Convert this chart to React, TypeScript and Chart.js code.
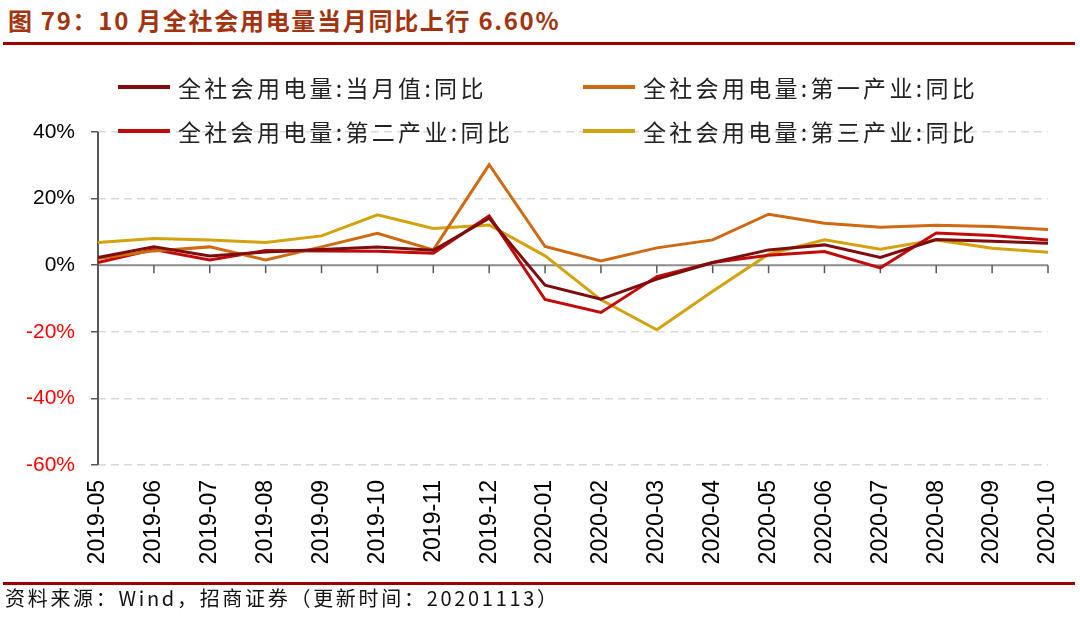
import React, { useEffect, useRef } from "react";
import { Chart, registerables } from "chart.js";

Chart.register(...registerables);

const categories = [
  "2019-05", "2019-06", "2019-07", "2019-08", "2019-09", "2019-10", "2019-11", "2019-12",
  "2020-01", "2020-02", "2020-03", "2020-04", "2020-05", "2020-06", "2020-07", "2020-08", "2020-09", "2020-10",
];
const totalYoY = [2.3, 5.5, 2.8, 4.0, 4.7, 5.5, 4.5, 14.1, -6.0, -10.2, -4.2, 0.8, 4.6, 6.1, 2.3, 7.7, 7.2, 6.6];
const primaryYoY = [2.0, 4.3, 5.5, 1.6, 5.5, 9.6, 4.6, 30.2, 5.6, 1.3, 5.2, 7.6, 15.3, 12.6, 11.4, 12.0, 11.6, 10.7];
const secondaryYoY = [0.8, 4.7, 1.6, 4.4, 4.3, 4.2, 3.6, 14.8, -10.3, -14.2, -3.4, 0.8, 3.0, 4.1, -0.8, 9.7, 8.9, 7.6];
const tertiaryYoY = [6.8, 8.0, 7.6, 6.8, 8.8, 15.1, 11.0, 12.1, 2.8, -10.4, -19.4, -7.8, 3.3, 7.6, 4.8, 7.6, 5.1, 3.9];

const seriesNames = [
  "全社会用电量:当月值:同比",
  "全社会用电量:第一产业:同比",
  "全社会用电量:第二产业:同比",
  "全社会用电量:第三产业:同比",
];
const seriesColors = ["#7E0E0E", "#CF6A12", "#C20A0A", "#D4A20C"];
const yMin = -60;
const yMax = 40;
const yStep = 20;

const titleText = "图 79：10 月全社会用电量当月同比上行 6.60%";
const sourceText = "资料来源：Wind，招商证券（更新时间：20201113）";

const CJK = '"Noto Sans CJK SC", "Noto Sans", sans-serif';
const LATIN = '"Liberation Sans", Arial, sans-serif';

const axisPlugin = {
  id: "axisPlugin",
  beforeDatasetsDraw(chart: any) {
    const { ctx, chartArea, scales } = chart;
    const x = scales.x;
    const y = scales.y;
    const y0 = y.getPixelForValue(0);
    ctx.save();
    ctx.setLineDash([]);
    ctx.strokeStyle = "#8C8C8C";
    ctx.lineWidth = 2;
    ctx.beginPath();
    ctx.moveTo(chartArea.left, y0);
    ctx.lineTo(chartArea.right, y0);
    ctx.stroke();
    ctx.strokeStyle = "#595959";
    ctx.lineWidth = 1.5;
    for (let i = 0; i < categories.length; i++) {
      const px = x.getPixelForValue(i);
      ctx.beginPath();
      ctx.moveTo(px, y0);
      ctx.lineTo(px, y0 + 8);
      ctx.stroke();
    }
    ctx.strokeStyle = "#595959";
    ctx.lineWidth = 2;
    ctx.beginPath();
    ctx.moveTo(chartArea.left, chartArea.top);
    ctx.lineTo(chartArea.left, chartArea.bottom);
    ctx.stroke();
    ctx.restore();
  },
};

function LegendItem({ name, color, left, cy }: { name: string; color: string; left: number; cy: number }) {
  return (
    <div
      style={{
        position: "absolute",
        left,
        top: cy - 16,
        height: 32,
        display: "flex",
        alignItems: "center",
        whiteSpace: "nowrap",
      }}
    >
      <div style={{ width: 52, height: 4, background: color, marginRight: 8 }} />
      <span style={{ fontFamily: CJK, fontSize: 23, letterSpacing: 3.3, color: "#222", lineHeight: "32px" }}>{name}</span>
    </div>
  );
}

export default function App() {
  const canvasRef = useRef<HTMLCanvasElement | null>(null);

  useEffect(() => {
    const canvas = canvasRef.current;
    if (!canvas) return;
    const data = [totalYoY, primaryYoY, secondaryYoY, tertiaryYoY];
    const chart = new Chart(canvas, {
      type: "line",
      data: {
        labels: categories,
        datasets: data.map((vals, i) => ({
          label: seriesNames[i],
          data: vals,
          borderColor: seriesColors[i],
          backgroundColor: seriesColors[i],
          borderWidth: 3,
          pointRadius: 0,
          tension: 0,
          fill: false,
        })),
      },
      options: {
        animation: false,
        responsive: false,
        maintainAspectRatio: false,
        devicePixelRatio: 1,
        layout: { padding: { left: 0, right: 32, top: 132, bottom: 42 } },
        plugins: {
          legend: { display: false },
          title: { display: false },
          tooltip: { enabled: false },
        },
        scales: {
          x: {
            type: "category",
            offset: false,
            grid: { display: false, drawTicks: false },
            border: { display: false },
            ticks: {
              autoSkip: false,
              maxRotation: 90,
              minRotation: 90,
              padding: 15,
              color: "#000",
              font: { family: LATIN, size: 23 },
            },
            afterFit(scale: any) {
              scale.height = 110;
              scale.paddingLeft = 0;
              scale.paddingRight = 0;
            },
          },
          y: {
            min: yMin,
            max: yMax,
            border: { display: false, dash: [8, 5] },
            grid: {
              color: (c: any) => (c.tick && c.tick.value === 0 ? "rgba(0,0,0,0)" : "#D9D9D9"),
              lineWidth: 1.5,
              drawTicks: true,
              tickLength: 7,
              tickColor: "#595959",
              tickWidth: 1.5,
              tickBorderDash: [],
            } as any,
            ticks: {
              stepSize: yStep,
              padding: 16,
              color: (c: any) => (c.tick && c.tick.value < 0 ? "#FF0000" : "#000000"),
              font: { family: LATIN, size: 21 },
              callback: (v: any) => `${v}%`,
            },
            afterFit(scale: any) {
              scale.width = 98;
            },
          },
        },
      },
      plugins: [axisPlugin],
    } as any);
    return () => chart.destroy();
  }, []);

  return (
    <div style={{ position: "fixed", left: 0, top: 0, width: 1080, height: 617, background: "#fff", overflow: "hidden" }}>
      <div
        style={{
          position: "absolute",
          left: 8,
          top: 4,
          fontFamily: CJK,
          fontWeight: 700,
          fontSize: 24,
          letterSpacing: 1.7,
          lineHeight: "32px",
          color: "#A3330E",
          whiteSpace: "pre",
        }}
      >
        {titleText}
      </div>
      <div style={{ position: "absolute", left: 3, top: 42, width: 1072, height: 3, background: "#9E0000" }} />
      <canvas ref={canvasRef} width={1080} height={617} style={{ position: "absolute", left: 0, top: 0, width: 1080, height: 617 }} />
      <LegendItem name={seriesNames[0]} color={seriesColors[0]} left={118} cy={87} />
      <LegendItem name={seriesNames[1]} color={seriesColors[1]} left={583} cy={87} />
      <LegendItem name={seriesNames[2]} color={seriesColors[2]} left={118} cy={131} />
      <LegendItem name={seriesNames[3]} color={seriesColors[3]} left={583} cy={131} />
      <div style={{ position: "absolute", left: 3, top: 582, width: 1072, height: 3, background: "#9E0000" }} />
      <div
        style={{
          position: "absolute",
          left: 5,
          top: 586,
          fontFamily: CJK,
          fontSize: 20,
          letterSpacing: 2.7,
          lineHeight: "24px",
          color: "#111",
          whiteSpace: "pre",
        }}
      >
        {sourceText}
      </div>
    </div>
  );
}
